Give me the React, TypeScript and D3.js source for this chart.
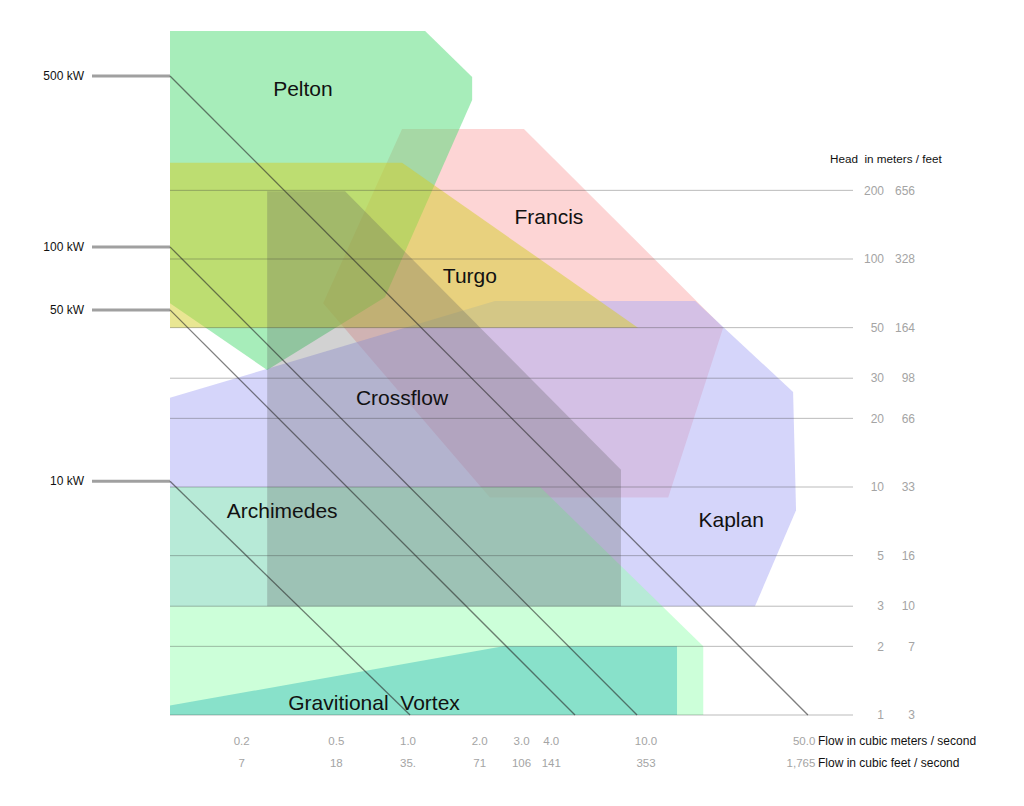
import React from 'react';
import * as d3 from 'd3';

// head ticks in meters, with the feet value printed next to each
const headMeters = [200, 100, 50, 30, 20, 10, 5, 3, 2, 1];
const headFeet = ['656', '328', '164', '98', '66', '33', '16', '10', '7', '3'];

// flow ticks in m³/s, with cubic feet per second below
const flowTicks = [0.2, 0.5, 1, 2, 3, 4, 10, 50];
const flowLabels = ['0.2', '0.5', '1.0', '2.0', '3.0', '4.0', '10.0', '50.0'];
const flowCfs = ['7', '18', '35.', '71', '106', '141', '353', '1,765'];

// power lines: head where they enter the chart (Q = 0.1) and flow where they hit 1 m
const powerLabels = ['500 kW', '100 kW', '50 kW', '10 kW'];
const powerHeadStart = [635, 113, 59.8, 10.6];
const powerFlowEnd = [47.9, 9.17, 5.03, 1.02];

// application ranges, [flow m³/s, head m]
const francis = [[0.944, 372], [3.07, 372], [21.1, 50], [12.4, 9], [2.21, 9], [0.44, 64]];
const kaplan = [[0.1, 24.6], [2.32, 65.4], [16.1, 65.4], [41.5, 26.1], [42.7, 7.9], [28.7, 3], [0.1, 3]];
const pelton = [[0.1, 1000], [1.18, 1000], [1.86, 628], [1.86, 498], [0.8, 68], [0.256, 32.6], [0.1, 64]];
const turgo = [[0.1, 264], [0.944, 264], [9.25, 50], [0.1, 50]];
const archimedes = [[0.1, 10], [3.59, 10], [17.4, 2], [17.4, 1], [0.1, 1]];
const vortex = [[0.1, 1.1], [2.51, 2], [13.5, 2], [13.5, 1], [0.1, 1]];
const crossflow = [[0.256, 198], [0.544, 198], [7.85, 11.9], [7.85, 3], [0.256, 3]];

const shapes = [francis, kaplan, pelton, turgo, archimedes, vortex, crossflow];
const shapeColors = [
  'rgba(251,171,171,0.5)',
  'rgba(171,171,245,0.5)',
  'rgba(79,219,117,0.5)',
  'rgba(212,205,40,0.5)',
  'rgba(153,255,180,0.5)',
  'rgba(80,200,190,0.55)',
  'rgba(90,90,90,0.27)',
];

// turbine names and where they sit [flow, head]
const turbineNames = ['Pelton', 'Francis', 'Turgo', 'Crossflow', 'Archimedes', 'Kaplan', 'Gravitional  Vortex'];
const turbineLabelAt = [[0.362, 557], [3.91, 154], [1.82, 84.2], [0.944, 24.6], [0.296, 7.85], [22.8, 7.17], [0.72, 1.13]];

const font = '"Liberation Sans", Arial, Helvetica, sans-serif';

const App = () => {
  const x = d3.scaleLog().domain([0.1, 100]).range([170, 884]);
  const y = d3.scaleLog().domain([1, 1000]).range([715, 31]);

  const area = d3.line<number[]>()
    .x(d => x(d[0]))
    .y(d => y(d[1]));

  const gridEnd = 853;
  const last = flowTicks.length - 1;

  return (
    <svg width={1024} height={806} style={{ position: 'absolute', left: 0, top: 0, fontFamily: font }}>
      <rect width={1024} height={806} fill="#fff" />

      {shapes.map((s, i) => (
        <path key={i} d={area(s) + 'Z'} fill={shapeColors[i]} />
      ))}

      {/* head grid */}
      {headMeters.map((h, i) => (
        <g key={h}>
          <line x1={x(0.1)} x2={gridEnd} y1={y(h)} y2={y(h)} stroke="rgba(60,60,60,0.35)" strokeWidth={1} />
          <text x={884} y={y(h)} dy="0.35em" textAnchor="end" fontSize={12} fill="#a4a4a4">{h}</text>
          <text x={915} y={y(h)} dy="0.35em" textAnchor="end" fontSize={12} fill="#a4a4a4">{headFeet[i]}</text>
        </g>
      ))}
      <text x={830} y={159} dy="0.35em" fontSize={11.7} fill="#111" style={{ whiteSpace: 'pre' }}>{'Head  in meters / feet'}</text>

      {/* power lines */}
      {powerLabels.map((p, i) => (
        <g key={p}>
          <line x1={92} x2={x(0.1)} y1={y(powerHeadStart[i])} y2={y(powerHeadStart[i])} stroke="#a0a0a0" strokeWidth={3} />
          <line x1={x(0.1)} y1={y(powerHeadStart[i])} x2={x(powerFlowEnd[i])} y2={y(1)}
            stroke="rgba(40,40,40,0.6)" strokeWidth={1.3} />
          <text x={84} y={y(powerHeadStart[i])} dy="0.35em" textAnchor="end" fontSize={12} fill="#111">{p}</text>
        </g>
      ))}

      {turbineNames.map((n, i) => (
        <text key={n} x={x(turbineLabelAt[i][0])} y={y(turbineLabelAt[i][1])} dy="0.35em"
          textAnchor="middle" fontSize={21} fill="#111" style={{ whiteSpace: 'pre' }}>{n}</text>
      ))}

      {/* flow axis */}
      {flowTicks.map((q, i) => (
        <g key={q}>
          <text x={i === last ? x(q) + 3 : x(q)} y={741} dy="0.35em" textAnchor={i === last ? 'end' : 'middle'}
            fontSize={11.5} fill="#a4a4a4">{flowLabels[i]}</text>
          <text x={i === last ? x(q) + 3 : x(q)} y={763} dy="0.35em" textAnchor={i === last ? 'end' : 'middle'}
            fontSize={11.5} fill="#a4a4a4">{flowCfs[i]}</text>
        </g>
      ))}
      <text x={818} y={741} dy="0.35em" fontSize={12} fill="#111">Flow in cubic meters / second</text>
      <text x={818} y={763} dy="0.35em" fontSize={12} fill="#111">Flow in cubic feet / second</text>
    </svg>
  );
};

export default App;
